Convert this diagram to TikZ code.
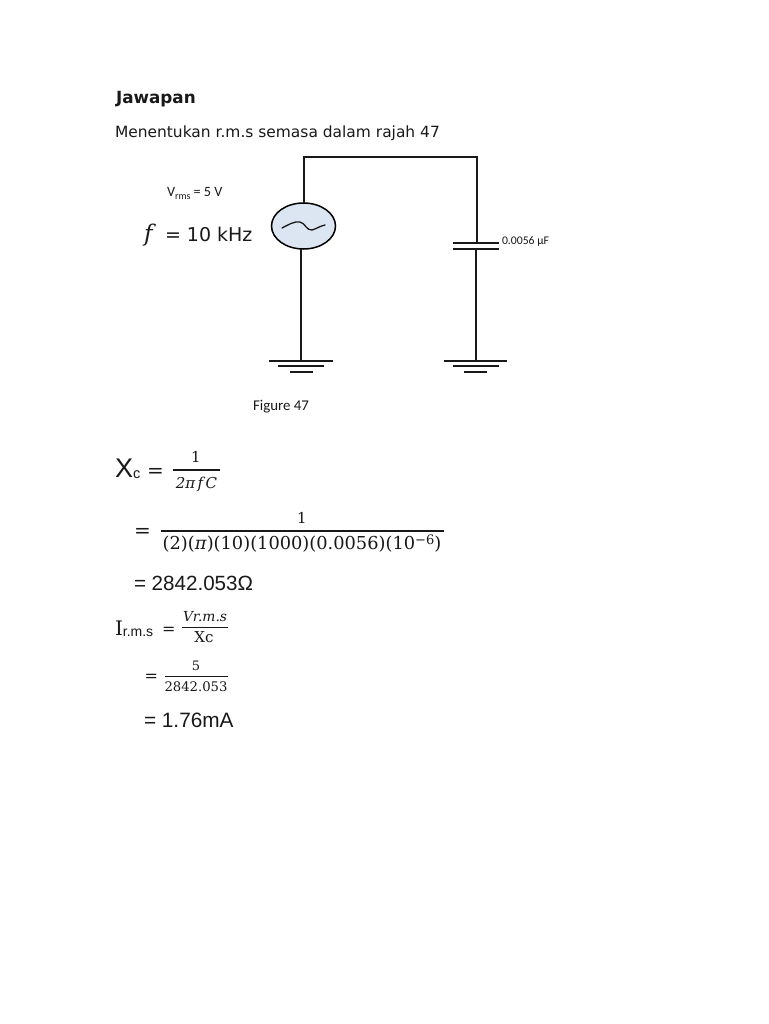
\documentclass[tikz,border=0pt]{standalone}
\usepackage{fontspec}
\usetikzlibrary{shapes.geometric}
\setmainfont{DejaVu Sans}
\newfontfamily\myserif{DejaVu Serif}
\newfontfamily\mycarlito{Carlito}
\newfontfamily\myarial{Liberation Sans}
\definecolor{srcfill}{HTML}{DCE6F2}
\tikzset{
  x=1pt,y=-1pt,
  txt/.style={anchor=base west,inner sep=0pt,outer sep=0pt,text=black!90},
  wire/.style={line width=2pt,draw=black!90},
  plate/.style={line width=2.2pt,draw=black!90},
  gbar/.style={line width=2pt,draw=black!90},
  fracrule/.style={line width=1.2pt,draw=black!90},
  fracpart/.style={anchor=base,inner sep=0pt,outer sep=0pt,text=black!90},
}
\begin{document}
\begin{tikzpicture}
\useasboundingbox (0,0) rectangle (768,1024);
\fill[white] (0,0) rectangle (768,1024);
% heading
\node[txt,font=\fontsize{16.8}{18}\selectfont\bfseries] (head) at (116,103.8) {Jawapan};
\node[txt,font=\fontsize{15.45}{18}\selectfont] (sub) at (115,137.5) {Menentukan r.m.s semasa dalam rajah 47};
% circuit
\node[ellipse,draw=black,line width=1.5pt,fill=srcfill,minimum width=64pt,minimum height=46pt,inner sep=0pt] (src) at (303.5,226) {};
\coordinate (tl) at (303.5,157);
\coordinate (tr) at (476.5,157);
\coordinate (capT) at (476.5,243.3);
\coordinate (capB) at (475.5,249);
\coordinate (capTL) at (453,243.3);
\coordinate (capTR) at (499,243.3);
\coordinate (capBL) at (453,249);
\coordinate (capBR) at (499,249);
\coordinate (g1) at (301,361);
\coordinate (g2) at (475.5,361);
\draw[wire] (303.5,203) -- (tl) -- (tr) -- (capT);
\draw[wire] (301,248.8) -- (g1);
\draw[wire] (capB) -- (g2);
\draw[plate] (capTL) -- (capTR);
\draw[plate] (capBL) -- (capBR);
\draw[gbar] (269,361) -- (333,361);
\draw[gbar] (278,366) -- (324,366);
\draw[gbar] (290,371.7) -- (313,371.7);
\draw[gbar] (444,361) -- (507,361);
\draw[gbar] (453,366) -- (499,366);
\draw[gbar] (464,371.7) -- (487,371.7);
\draw[line width=1.3pt,black!90,line cap=round] (282,228) .. controls (288,225) and (294,221) .. (300,222) .. controls (305,223) and (307,231) .. (312,230) .. controls (316,229) and (320,226) .. (325,225);
% circuit labels
\node[txt,font=\fontsize{14.2}{16}\selectfont\mycarlito] (vrms) at (167,197) {V\raisebox{-2.5pt}{\fontsize{10}{10}\selectfont rms} = 5 V};
\node[txt,font=\fontsize{19}{20}\selectfont] (freq) at (165,241) {= 10 kHz};
\node[txt,font=\fontsize{23}{24}\selectfont\myserif\itshape] (f) at (144,241) {f};
\node[txt,font=\fontsize{11.7}{13}\selectfont\mycarlito] (capval) at (502,244) {0.0056 µF};
\node[txt,font=\fontsize{14.9}{16}\selectfont\mycarlito] (fig) at (253,410) {Figure 47};
% Xc
\node[txt,font=\fontsize{27}{28}\selectfont\myarial] (xc) at (115,477) {X\raisebox{-1pt}{\fontsize{14.5}{14}\selectfont c}};
\node[txt,font=\fontsize{20}{22}\selectfont\myserif] (eq1) at (147,477) {=};
\node[fracpart,font=\fontsize{15}{17}\selectfont\myserif] (n1) at (196,462) {1};
\draw[fracrule] (173,470) -- (220,470);
\node[fracpart,font=\fontsize{15}{17}\selectfont\myserif\itshape] (d1) at (196.5,488) {2π\,f\,C};
% second
\node[txt,font=\fontsize{20}{22}\selectfont\myserif] (eq2) at (134,537) {=};
\node[fracpart,font=\fontsize{15}{17}\selectfont\myserif] (n2) at (302,523) {1};
\draw[fracrule] (161,531) -- (444,531);
\node[fracpart,font=\fontsize{17.8}{20}\selectfont\myserif] (d2) at (302,549) {(2)(\textit{π})(10)(1000)(0.0056)(10\raisebox{4.5pt}{\fontsize{13}{13}\selectfont −6})};
% value
\node[txt,font=\fontsize{20.6}{22}\selectfont\myarial] (v1) at (134,590) {= 2842.053Ω};
% Irms
\node[txt,font=\fontsize{20}{22}\selectfont\myserif] (ir) at (115,635) {I\raisebox{-1pt}{\fontsize{14}{14}\selectfont\myarial r.m.s}};
\node[txt,font=\fontsize{16}{18}\selectfont\myserif] (eq3) at (162,634) {=};
\node[fracpart,font=\fontsize{13.8}{15}\selectfont\myserif\itshape] (n3) at (205,621) {Vr.m.s};
\draw[fracrule,line width=0.9pt] (182,627.3) -- (228,627.3);
\node[fracpart,font=\fontsize{15}{17}\selectfont\myserif] (d3) at (204,642) {Xc};
% five
\node[txt,font=\fontsize{16}{18}\selectfont\myserif] (eq4) at (144.5,681) {=};
\node[fracpart,font=\fontsize{13}{15}\selectfont\myserif] (n4) at (196,670) {5};
\draw[fracrule,line width=0.9pt] (165,676.3) -- (228,676.3);
\node[fracpart,font=\fontsize{13.2}{15}\selectfont\myserif] (d4) at (196,691) {2842.053};
% result
\node[txt,font=\fontsize{20.8}{22}\selectfont\myarial] (v2) at (144,727) {= 1.76mA};
\end{tikzpicture}
\end{document}
